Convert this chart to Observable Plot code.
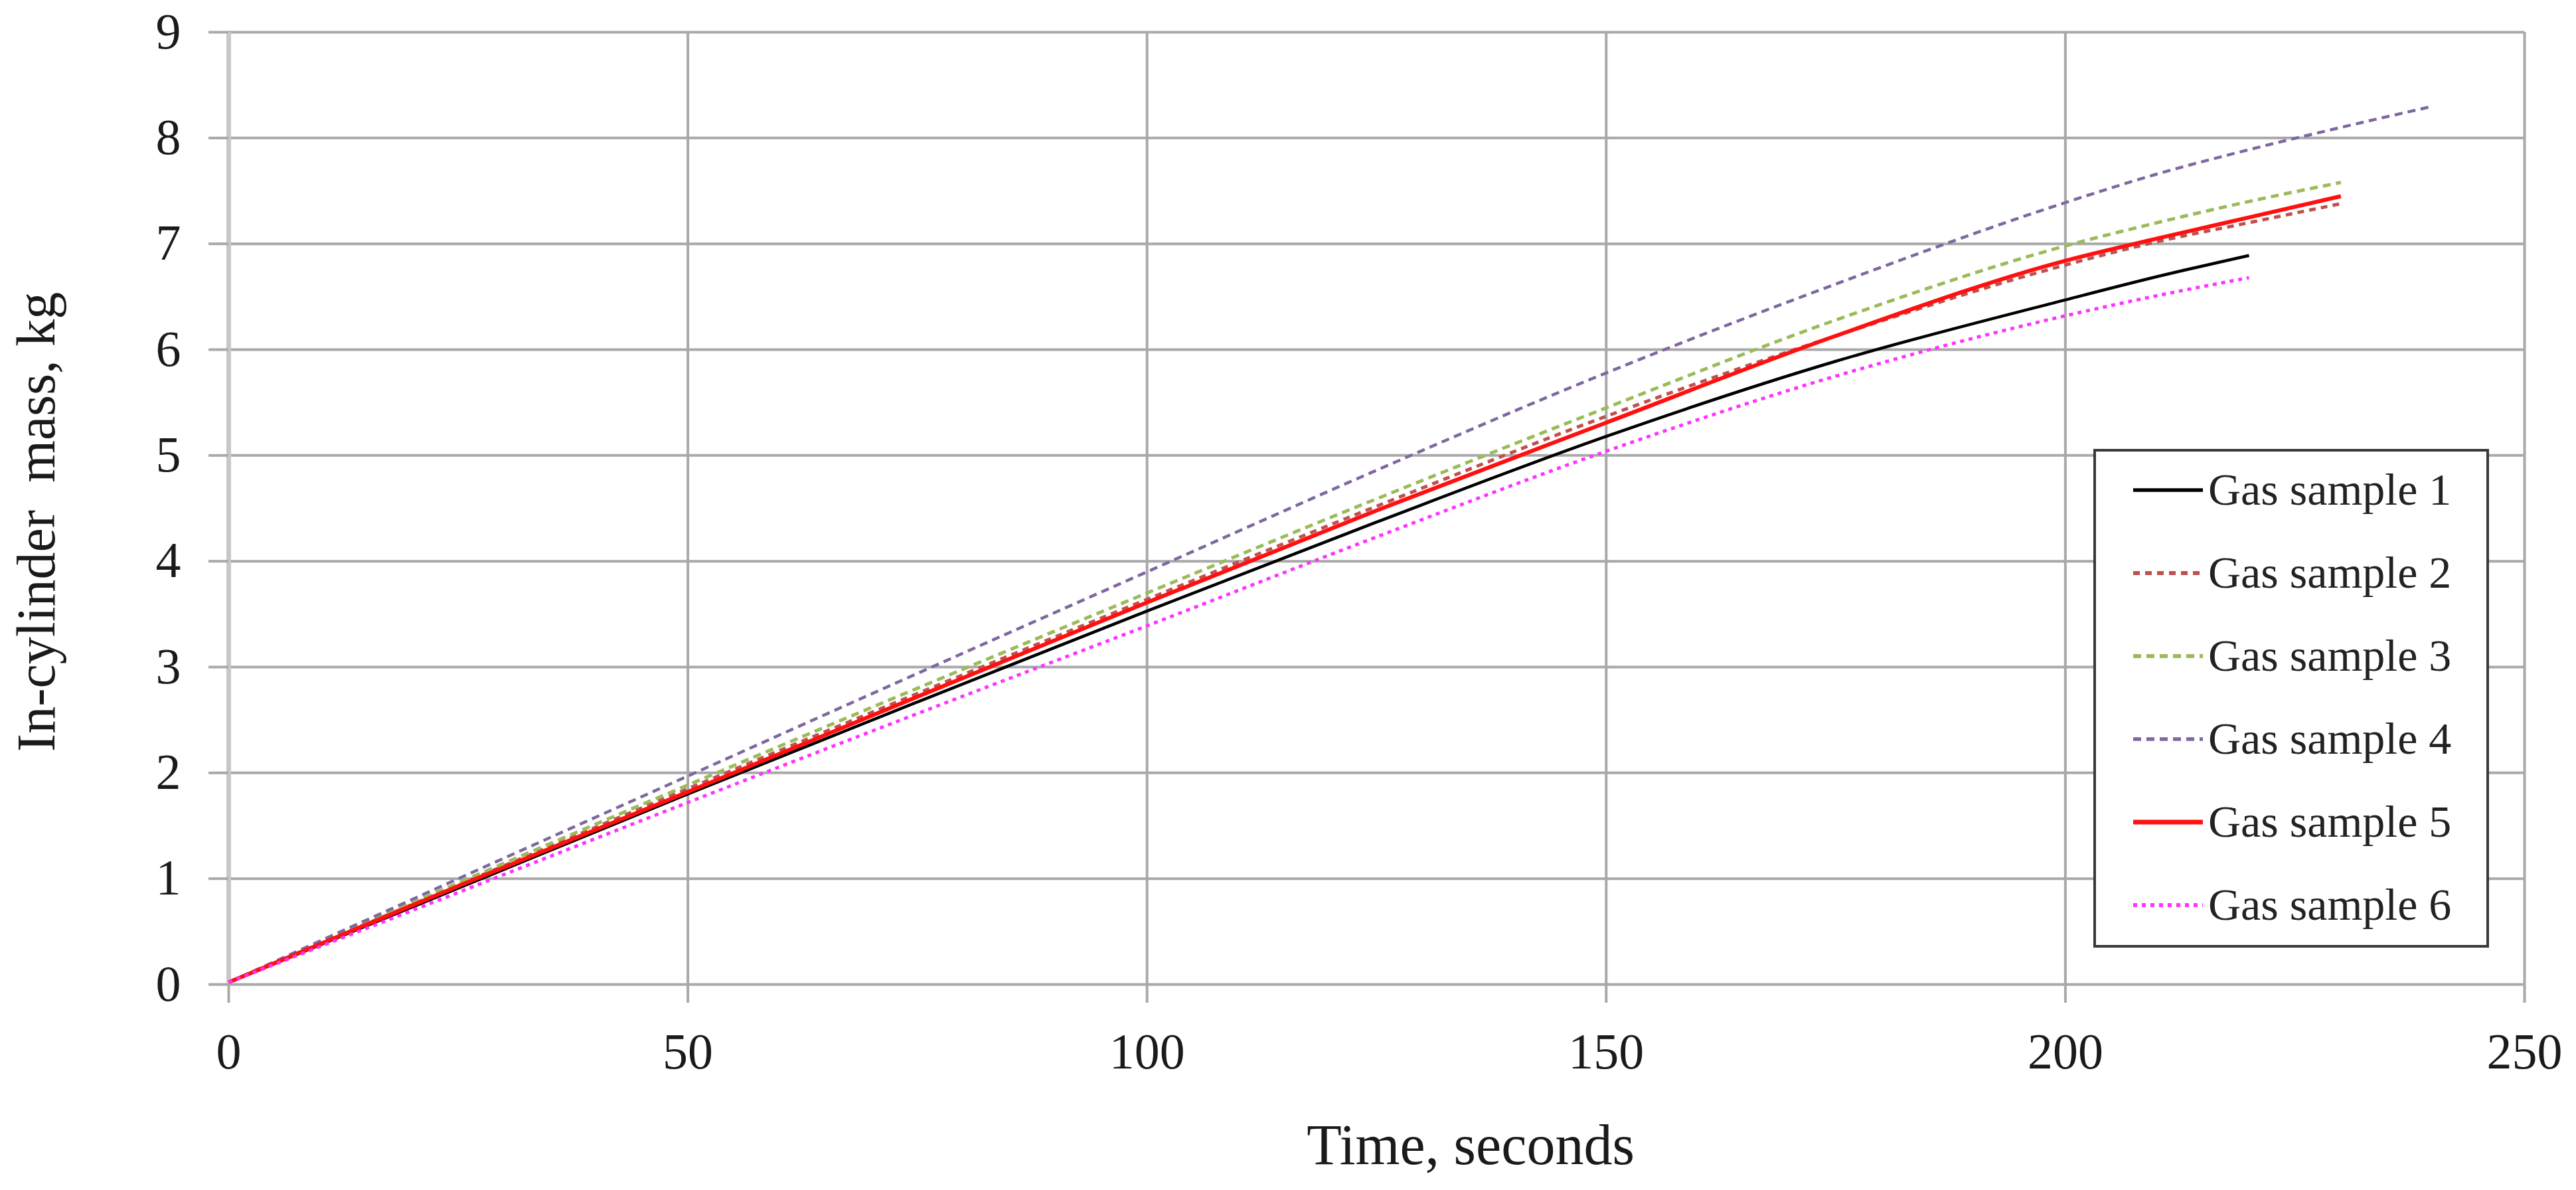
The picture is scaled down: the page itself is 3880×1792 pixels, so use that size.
<!DOCTYPE html>
<html>
<head>
<meta charset="utf-8">
<script src="https://cdn.jsdelivr.net/npm/d3@7"></script>
<script src="https://cdn.jsdelivr.net/npm/@observablehq/plot@0.6"></script>
<style>
  html, body { margin: 0; padding: 0; background: #ffffff; }
  #wrap { position: relative; width: 3880px; height: 1792px; overflow: hidden; background: #fff; }
  #wrap svg { position: absolute; left: 0; top: 0; }
</style>
</head>
<body>
<div id="wrap"></div>
<script>
// ---- data ----
const times = [0, 25, 50, 75, 100, 125, 150, 175, 200, 210, 220, 230, 240];
const seriesNames = ["Gas sample 1", "Gas sample 2", "Gas sample 3", "Gas sample 4", "Gas sample 5", "Gas sample 6"];
const sample1 = [0.02, 0.91, 1.80, 2.67, 3.53, 4.37, 5.18, 5.89, 6.47, 6.69, 6.89];
const sample2 = [0.02, 0.94, 1.85, 2.75, 3.64, 4.52, 5.37, 6.13, 6.80, 7.02, 7.20, 7.38];
const sample3 = [0.02, 0.96, 1.885, 2.80, 3.70, 4.59, 5.45, 6.28, 6.98, 7.20, 7.40, 7.58];
const sample4 = [0.02, 1.00, 1.97, 2.94, 3.90, 4.86, 5.78, 6.62, 7.39, 7.66, 7.89, 8.10, 8.30];
const sample5 = [0.02, 0.93, 1.82, 2.72, 3.61, 4.48, 5.31, 6.13, 6.84, 7.05, 7.25, 7.45];
const sample6 = [0.02, 0.87, 1.72, 2.56, 3.39, 4.23, 5.04, 5.75, 6.32, 6.51, 6.68];
const xTicks = [0, 50, 100, 150, 200, 250];
const yTicks = [0, 1, 2, 3, 4, 5, 6, 7, 8, 9];
const xTitle = "Time, seconds";
const yTitle = "In-cylinder\u00a0 mass, kg";

// ---- styles ----
const seriesStyle = [
  {stroke: "#000000", width: 4.5, dash: null},
  {stroke: "#C0504D", width: 5, dash: "10,8"},
  {stroke: "#9BBB59", width: 5, dash: "12,8"},
  {stroke: "#7F67A0", width: 4.5, dash: "12,8"},
  {stroke: "#FF1010", width: 6, dash: null},
  {stroke: "#FF33FF", width: 5, dash: "6,7"}
];
const serif = "'Liberation Serif', 'Times New Roman', serif";

const allValues = [sample1, sample2, sample3, sample4, sample5, sample6];
const rows = [];
allValues.forEach((vals, i) => vals.forEach((m, j) => rows.push({series: seriesNames[i], t: times[j], m})));

const W = 3880, H = 1792;
const gridColor = "#a9a9a9";

const lineMarks = seriesNames.map((name, i) =>
  Plot.line(rows.filter(r => r.series === name), {
    x: "t", y: "m", curve: "monotone-x",
    stroke: seriesStyle[i].stroke,
    strokeWidth: seriesStyle[i].width,
    strokeDasharray: seriesStyle[i].dash ?? undefined,
    strokeLinecap: "butt"
  })
);

const chart = Plot.plot({
  width: W,
  height: H,
  marginLeft: 344,
  marginRight: 78,
  marginTop: 48,
  marginBottom: 310,
  style: {fontFamily: serif, background: "transparent", color: "#1a1a1a"},
  x: {domain: [0, 250]},
  y: {domain: [0, 9]},
  marks: [
    Plot.gridY(yTicks, {stroke: gridColor, strokeOpacity: 1, strokeWidth: 4}),
    Plot.gridX(xTicks, {stroke: gridColor, strokeOpacity: 1, strokeWidth: 4}),
    Plot.ruleX([0], {stroke: "#c8c8c8", strokeWidth: 7, y1: 0, y2: 9}),
    Plot.axisY(yTicks, {tickSize: 30, tickPadding: 42, stroke: gridColor, strokeWidth: 4, fontSize: 76, label: null, fill: "#1a1a1a", tickFormat: d => String(d)}),
    Plot.axisX(xTicks, {tickSize: 28, tickPadding: 45, stroke: gridColor, strokeWidth: 4, fontSize: 76, label: null, fill: "#1a1a1a", tickFormat: d => String(d)}),
    ...lineMarks
  ]
});

const wrap = document.getElementById("wrap");
wrap.appendChild(chart);

// ---- overlay: axis titles and legend ----
const ov = d3.select(wrap).append("svg")
  .attr("width", W).attr("height", H)
  .style("font-family", serif);

ov.append("text")
  .attr("x", 2215).attr("y", 1753)
  .attr("text-anchor", "middle")
  .attr("font-size", 86)
  .attr("fill", "#1a1a1a")
  .text(xTitle);

ov.append("text")
  .attr("transform", "translate(82,786) rotate(-90)")
  .attr("text-anchor", "middle")
  .attr("font-size", 82)
  .attr("fill", "#1a1a1a")
  .text(yTitle);

const lg = ov.append("g");
lg.append("rect")
  .attr("x", 3155).attr("y", 678).attr("width", 592).attr("height", 747)
  .attr("fill", "#ffffff").attr("stroke", "#3a3a3a").attr("stroke-width", 4);
seriesNames.forEach((name, i) => {
  const yy = 738 + i * 125;
  const s = seriesStyle[i];
  lg.append("line")
    .attr("x1", 3213).attr("x2", 3318).attr("y1", yy).attr("y2", yy)
    .attr("stroke", s.stroke).attr("stroke-width", s.width + 1)
    .attr("stroke-dasharray", s.dash);
  lg.append("text")
    .attr("x", 3326).attr("y", yy + 22)
    .attr("font-size", 68)
    .attr("fill", "#222")
    .text(name);
});
</script>
</body>
</html>
